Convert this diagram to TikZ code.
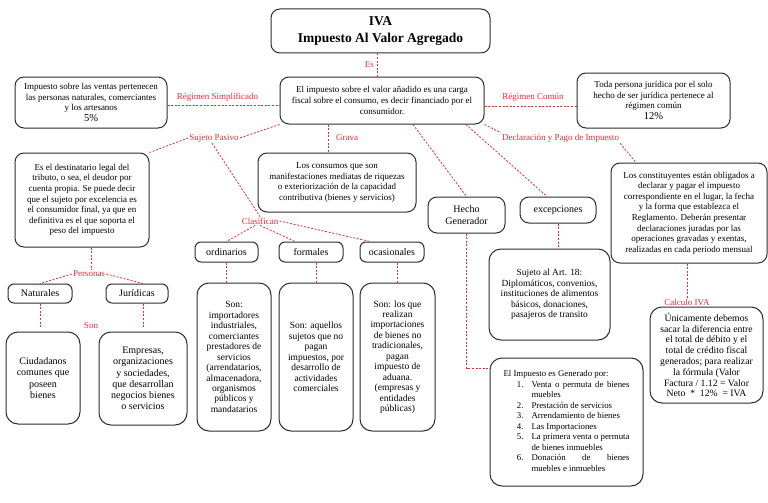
\documentclass[tikz,border=0pt]{standalone}
\usepackage{fontspec}
\setmainfont{Liberation Serif}
\definecolor{lred}{RGB}{232,44,56}
\definecolor{bline}{RGB}{45,45,45}
\begin{document}
\begin{tikzpicture}[x=1pt,y=-1pt,
  box/.style={draw=bline, line width=1pt, rounded corners=9pt, align=center, inner sep=1pt, fill=white},
  lbl/.style={text=lred, font=\fontsize{9}{10}\selectfont, inner sep=1pt},
  link/.style={draw=lred, line width=0.8pt, dash pattern=on 2pt off 1.6pt},
  fson/.style={font=\fontsize{9.5}{10.45}\selectfont},
  f9/.style={font=\fontsize{9}{10.6}\selectfont},
  f94/.style={font=\fontsize{9.4}{10.4}\selectfont},
  f97/.style={font=\fontsize{9.7}{10.8}\selectfont},
  f10/.style={font=\fontsize{10}{11.3}\selectfont},
  ttl/.style={font=\fontsize{13.5}{17}\selectfont\bfseries}]
\useasboundingbox (0,0) rectangle (768,503);
\fill[white] (0,0) rectangle (768,503);

% boxes
\node[box, ttl, minimum width=219pt, minimum height=44pt] (title) at (380.5,31) {IVA\\Impuesto Al Valor Agregado};
\node[box, f9, minimum width=204pt, minimum height=47pt] (main) at (382,100.5) {El impuesto sobre el valor añadido es una carga\\fiscal sobre el consumo, es decir financiado por el\\consumidor.};
\node[box, f9, minimum width=152pt, minimum height=51pt] (simp) at (91,102.5) {Impuesto sobre las ventas pertenecen\\las personas naturales, comerciantes\\y los artesanos\\{\fontsize{10.5}{11}\selectfont 5\%}};
\node[box, f9, minimum width=153pt, minimum height=55pt] (comun) at (653.5,100.5) {Toda persona jurídica por el solo\\hecho de ser jurídica pertenece al\\régimen común\\{\fontsize{10.5}{11}\selectfont 12\%}};
\node[box, f9, minimum width=134pt, minimum height=94pt] (dest) at (82,200) {Es el destinatario legal del\\tributo, o sea, el deudor por\\cuenta propia. Se puede decir\\que el sujeto por excelencia es\\el consumidor final, ya que en\\definitiva es el que soporta el\\peso del impuesto};
\node[box, f9, minimum width=158pt, minimum height=59pt] (grava) at (337,182.5) {Los consumos que son\\manifestaciones mediatas de riquezas\\o exteriorización de la capacidad\\contributiva (bienes y servicios)};
\node[box, f10, minimum width=77pt, minimum height=36pt] (hecho) at (466.5,215) {Hecho\\Generador};
\node[box, f10, minimum width=76pt, minimum height=26pt] (excep) at (558,210) {excepciones};
\node[box, f9, minimum width=156pt, minimum height=100pt] (const) at (689,213) {Los constituyentes están obligados a\\declarar y pagar el impuesto\\correspondiente en el lugar, la fecha\\y la forma que establezca el\\Reglamento. Deberán presentar\\declaraciones juradas por las\\operaciones gravadas y exentas,\\realizadas en cada periodo mensual};
\node[box, f10, minimum width=63pt, minimum height=20pt, rounded corners=6pt] (ordin) at (226.5,252) {ordinarios};
\node[box, f10, minimum width=64pt, minimum height=20pt, rounded corners=6pt] (form) at (311,252) {formales};
\node[box, f10, minimum width=64pt, minimum height=20pt, rounded corners=6pt] (ocas) at (392,252) {ocasionales};
\node[box, f10, minimum width=64pt, minimum height=19pt, rounded corners=6pt] (nat) at (40,293.5) {Naturales};
\node[box, f10, minimum width=62pt, minimum height=19pt, rounded corners=6pt] (jur) at (137,293.5) {Jurídicas};
\node[box, f10, minimum width=74pt, minimum height=92pt, rounded corners=12pt] (ciud) at (43,378) {Ciudadanos\\comunes que\\poseen\\bienes};
\node[box, f10, minimum width=88pt, minimum height=93pt, rounded corners=12pt] (empr) at (143,378.5) {Empresas,\\organizaciones\\y sociedades,\\que desarrollan\\negocios bienes\\o servicios};
\node[box, fson, minimum width=74pt, minimum height=148pt, rounded corners=12pt] (sonimp) at (234,357) {Son:\\importadores\\industriales,\\comerciantes\\prestadores de\\servicios\\(arrendatarios,\\almacenadora,\\organismos\\públicos y\\mandatarios};
\node[box, fson, minimum width=74pt, minimum height=148pt, rounded corners=12pt] (sonaq) at (316,357) {Son: aquellos\\sujetos que no\\pagan\\impuestos, por\\desarrollo de\\actividades\\comerciales};
\node[box, fson, minimum width=75pt, minimum height=148pt, rounded corners=12pt] (sonlos) at (397.5,357) {Son: los que\\realizan\\importaciones\\de bienes no\\tradicionales,\\pagan\\impuesto de\\aduana.\\(empresas y\\entidades\\públicas)};
\node[box, f94, minimum width=121pt, minimum height=91pt, rounded corners=12pt] (art18) at (549.5,294.5) {Sujeto al Art. 18:\\Diplomáticos, convenios,\\instituciones de alimentos\\básicos, donaciones,\\pasajeros de transito};
\node[box, font=\fontsize{8.8}{10.5}\selectfont, minimum width=153pt, minimum height=128pt, rounded corners=12pt] (gen) at (566.5,422) {%
\begin{tabular}{@{}r@{\hspace{8pt}}p{98pt}@{}}
\multicolumn{2}{@{}l@{}}{El Impuesto es Generado por:}\\
\makebox[20pt][r]{1.} & Venta o permuta de bienes\linebreak muebles\\
2. & Prestación de servicios\\
3. & Arrendamiento de bienes\\
4. & Las Importaciones\\
5. & La primera venta o permuta\linebreak de bienes inmuebles\\
6. & Donación de bienes\linebreak muebles e inmuebles
\end{tabular}};
\node[box, f97, minimum width=113pt, minimum height=96pt, rounded corners=12pt] (calc) at (706.5,355) {Únicamente debemos\\sacar la diferencia entre\\el total de débito y el\\total de crédito fiscal\\generados; para realizar\\la fórmula (Valor\\Factura / 1.12 = Valor\\Neto~ *~ 12\%~ = IVA};

% labels
\node[lbl, anchor=east] (es) at (375,65) {Es};
\node[lbl] (rs) at (217.5,97) {Régimen Simplificado};
\node[lbl] (rc) at (533,97) {Régimen Común};
\node[lbl] (sp) at (214,138) {Sujeto Pasivo};
\node[lbl] (grv) at (347,138) {Grava};
\node[lbl] (decl) at (560.5,138) {Declaración y Pago de Impuesto};
\node[lbl] (clas) at (260,221) {Clasifican};
\node[lbl] (pers) at (89,274) {Personas};
\node[lbl] (son) at (91,326) {Son};
\node[lbl] (calclbl) at (687,302) {Calculo IVA};

% connectors
\draw[link] (title.south -| 377,0) -- (main.north -| 377,0);
\draw[link] (simp.east |- 0,105) -- (main.west |- 0,105);
\draw[link] (main.east |- 0,106) -- (comun.west |- 0,106);
\draw[link] (main.south west) -- (sp.east);
\draw[link] (sp.west) -- (dest.north east);
\draw[link] ([xshift=-2pt]sp.south) -- (clas.north);
\draw[link] ([xshift=-5pt]clas.south) -- (ordin.north);
\draw[link] (clas.south) -- ([xshift=-16pt]form.north);
\draw[link] (clas.east) -- ([xshift=-22pt]ocas.north);
\draw[link] (main.south -| 328,0) -- (grava.north -| 328,0);
\draw[link] (main.south -| 413,0) -- (hecho.north);
\draw[link] (main.south -| 466,0) -- (excep.north -| 547,0);
\draw[link] (main.south east) -- (decl.north west);
\draw[link] (decl.south east) -- ([xshift=-53pt]const.north);
\draw[link] (hecho.south) |- ([yshift=-11pt]gen.north west);
\draw[link] (excep.south) -- (art18.north -| excep.south);
\draw[link] (const.south -| calclbl.north) -- (calclbl.north);
\draw[link] (dest.south -| pers.north) ++(2,0) -- ([xshift=2pt]pers.north);
\draw[link] (pers.west) -- (nat.north);
\draw[link] (pers.east) -- ([xshift=6pt]jur.north);
\draw[link, shorten >=4pt] (nat.south) -- (ciud.north -| nat.south);
\draw[link, shorten >=4pt] ([xshift=6pt]jur.south) -- (empr.north -| 143,0);
\draw[link] (ordin.south) -- (sonimp.north -| ordin.south);
\draw[link] (sonaq.north |- form.south) -- (sonaq.north);
\draw[link] (sonlos.north |- ocas.south) -- (sonlos.north);
\end{tikzpicture}
\end{document}
